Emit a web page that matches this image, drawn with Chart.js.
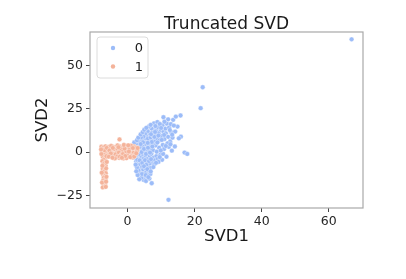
<!DOCTYPE html>
<html>
<head>
<meta charset="utf-8">
<script src="https://cdn.jsdelivr.net/npm/chart.js@4.4.1/dist/chart.umd.min.js"></script>
<style>
  html, body { margin: 0; padding: 0; background: #fff; }
  #wrap { width: 406px; height: 279px; }
</style>
</head>
<body>
<div id="wrap"><canvas id="grafico"></canvas></div>
<script>
// =========================================================
// 1. DATA
// =========================================================
const TITLE = "Truncated SVD";
const X_LABEL = "SVD1";
const Y_LABEL = "SVD2";
const CLASS_LABELS = ["0", "1"];
const X_TICKS = [0, 20, 40, 60];
const Y_TICKS = [-25, 0, 25, 50];

// class "0" points [SVD1, SVD2]
const class0 = [
  [2.1,1.2],[2.4,-0.5],[2.6,2.8],[2.2,-2.3],[2.9,0.4],[3.1,3.9],[3.0,-1.6],[3.3,1.8],[3.5,-3.2],[3.4,5.1],
  [3.8,0.9],[3.7,-0.9],[4.0,2.6],[4.1,-2.4],[4.3,4.3],[4.2,-4.6],[4.5,1.3],[4.6,-1.2],[4.8,3.2],[4.9,-3.5],
  [5.1,0.2],[5.0,5.8],[5.3,2.1],[5.4,-2.0],[5.6,4.6],[5.7,-0.6],[5.9,1.5],[6.0,-3.9],[6.2,3.3],[6.3,6.6],
  [6.5,0.6],[6.6,-1.9],[6.8,4.9],[7.0,2.2],[7.1,-0.9],[7.3,7.4],[2.3,3.5],[2.7,-3.6],[2.5,4.6],[3.6,6.4],
  [3.9,-5.4],[4.4,7.2],[1.8,0.2],[1.6,-1.1],[1.9,2.2],[2.0,-3.3],
  [2.6,-5.2],[3.0,-6.8],[3.4,-8.1],[3.8,-7.0],[4.0,-9.5],[4.4,-8.4],[4.2,-11.2],[4.7,-10.0],[5.0,-12.4],[5.3,-9.2],
  [5.6,-11.6],[4.6,-13.6],[5.2,-14.5],[5.9,-13.3],[6.4,-10.8],[6.1,-7.6],[6.8,-12.6],[7.0,-9.0],[4.8,-16.0],[5.5,-16.6],
  [7.2,-17.9],[6.5,-15.2],[3.6,-12.0],[3.2,-10.4],[4.1,-14.8],[5.8,-5.8],[6.7,-6.4],[7.5,-5.2],[7.8,-3.1],[8.2,-4.6],
  [8.6,-2.2],[9.0,-3.8],[8.0,-7.0],[2.8,-8.8],[2.4,-7.2],[3.5,-15.6],
  [5.4,8.2],[5.8,9.6],[6.1,7.9],[6.6,10.8],[6.9,8.6],[7.4,11.7],[7.7,9.4],[7.9,13.4],[8.1,6.3],[8.4,10.2],
  [8.6,12.6],[8.8,8.1],[9.1,14.4],[9.3,11.0],[9.6,6.9],[9.9,12.9],[10.1,9.3],[10.4,15.6],[10.7,11.8],[11.0,7.6],
  [11.3,13.6],[11.4,10.9],[11.7,16.5],[12.1,8.9],[12.4,14.2],[12.7,6.2],[13.0,11.6],[7.1,13.8],[7.9,16.7],[8.9,17.4],
  [10.7,20.2],[12.1,19.0],[13.6,18.7],[14.4,20.6],[15.8,21.2],[14.9,14.8],[14.2,11.9],[15.9,9.0],[15.3,8.0],[14.1,3.3],
  [17.0,-0.2],[17.8,-1.0],[12.9,16.2],[13.4,8.4],[11.9,5.1],[10.5,4.2],[9.4,2.6],[8.3,3.9],[7.6,1.2],[8.7,0.3],
  [9.8,-1.4],[10.9,1.9],[12.3,3.1],[13.2,0.9],[11.6,-2.6],[10.3,-4.4],[9.2,-5.6],[6.0,12.1],[5.2,10.6],[4.7,9.0],
  [4.0,8.6],[6.4,14.9],[7.5,4.5],[8.9,5.6],[10.2,7.1],
  [2.0,5.6],[2.8,6.9],[3.2,8.4],[3.9,10.3],[4.5,11.6],[5.0,13.0],[5.6,14.1],[6.9,15.8],[8.3,15.1],[9.6,16.3],
  [3.3,-1.1],[3.6,3.0],[4.2,0.1],[4.9,1.9],[5.5,-1.0],[6.1,2.6],[6.7,-0.2],[7.4,3.3],[7.2,5.9],[6.0,5.4],
  [4.6,5.7],[3.9,4.7],[2.5,-1.8],[2.9,-4.4],[3.6,-4.7],[4.4,-6.2],[5.2,-4.6],[5.6,-7.2],[6.4,-5.1],[7.0,-4.0],
  [4.9,-8.1],[5.9,-9.8],[6.9,-11.1],[4.3,-12.6],[5.4,-13.2],[6.2,-14.4],[3.0,-13.2],[2.6,-11.0],[7.7,-8.6],[8.5,-6.1],
  [9.6,-2.8],[10.6,-1.0],[9.9,1.0],[11.4,3.6],[12.8,4.6],[8.0,8.9],[9.2,9.6],[10.9,10.0],[7.0,10.4],[8.2,11.7],
  [10.0,14.0],[11.0,17.6],[12.6,12.8],[13.8,15.4],[13.3,10.1],
  [22.4,37.5],[21.8,25.4],[12.2,-27.5],[66.8,65.2]
];

// class "1" points [SVD1, SVD2]
const class1 = [
  [-7.8,3.2],[-7.2,2.6],[-6.6,3.4],[-6.1,1.8],[-5.6,3.0],[-5.1,2.2],[-4.6,0.9],[-4.2,3.1],[-3.7,1.6],[-3.3,2.8],
  [-2.8,0.4],[-2.4,3.4],[-1.9,1.2],[-1.5,2.5],[-1.0,-0.3],[-0.6,3.0],[-0.2,1.4],[0.3,2.6],[0.7,0.8],[1.1,2.9],
  [1.5,1.1],[1.9,3.3],[2.3,1.9],[2.7,0.6],
  [-7.6,0.4],[-7.0,-0.8],[-6.4,0.2],[-5.8,-1.4],[-5.3,-0.2],[-4.8,-2.1],[-4.3,-0.9],[-3.9,-2.8],[-3.4,-0.5],[-2.9,-1.9],
  [-2.5,-3.3],[-2.1,-0.9],[-1.6,-2.4],[-1.2,-3.6],[-0.8,-1.6],[-0.4,-2.7],[0.1,-0.7],[0.5,-1.9],[0.9,-0.2],[1.3,-1.2],
  [1.8,-0.4],[2.2,-1.5],[2.5,2.6],[2.9,1.3],
  [-6.9,1.2],[-6.2,2.5],[-5.4,1.0],[-4.9,3.6],[-4.0,1.9],[-3.0,2.0],[-2.2,1.8],[-1.3,0.6],[-0.5,0.1],[0.0,3.6],
  [0.6,1.9],[1.0,3.8],[1.6,2.4],[-3.6,-1.3],[-2.6,-0.2],[-1.8,-1.3],[-0.9,2.1],[-0.1,-1.8],[0.4,0.4],[1.2,-2.3],
  [-5.0,-0.7],[-4.4,2.5],[-3.1,-2.5],[-2.0,-2.1],[-1.4,-1.1],[-2.4,7.4],[-3.0,3.9],[-1.1,4.2],[0.2,4.0],[1.4,-3.0],
  [-0.3,-3.4],[-2.7,2.9],
  [-7.0,-1.6],[-7.4,-2.6],[-6.6,-3.4],[-7.1,-4.3],[-7.5,-5.2],[-6.8,-6.1],[-7.2,-7.0],[-6.5,-7.9],[-7.0,-8.8],[-7.4,-9.6],
  [-6.7,-10.5],[-7.1,-11.3],[-6.5,-12.1],[-7.3,-13.0],[-6.8,-13.9],[-7.1,-14.8],[-6.6,-15.6],[-7.3,-16.4],[-6.9,-17.2],[-7.2,-18.1],
  [-6.7,-18.9],[-7.0,-19.8],[-7.4,-20.3],[-6.3,-2.3],[-6.2,-5.6],[-6.4,-9.3],[-6.3,-14.2],[-7.7,-11.8],[-7.6,-17.5],[-6.4,-17.0],
  [-6.5,-20.0],[-7.8,-1.0],[-7.9,1.6],[-7.5,-7.8],
  [-3.8,-3.6],[-2.3,-2.6],[-0.7,-2.2],[0.8,-2.8],[2.0,-2.5],[-5.6,-2.6],[-4.5,-3.2],[-1.7,-3.2],[2.6,-0.6],[3.0,2.4]
];

const CLASS_COLORS = ["#9cbcf8", "#f4b39a"];

// =========================================================
// 2. PLUGINS (frame, title, legend)
// =========================================================
const FONT = "'DejaVu Sans', sans-serif";

const framePlugin = {
  id: 'frame',
  afterDraw(chart) {
    const { ctx, chartArea: a } = chart;
    ctx.save();
    ctx.strokeStyle = '#a8a8a8';
    ctx.lineWidth = 1.2;
    ctx.strokeRect(a.left, a.top, a.right - a.left, a.bottom - a.top);

    // title centred on the axes
    ctx.fillStyle = '#1a1a1a';
    ctx.font = `17px ${FONT}`;
    ctx.textAlign = 'center';
    ctx.textBaseline = 'alphabetic';
    ctx.fillText(TITLE, (a.left + a.right) / 2, a.top - 3);

    // legend box in the upper left corner
    const bx = a.left + 7, by = a.top + 5, bw = 51, bh = 41;
    ctx.fillStyle = 'rgba(255,255,255,0.8)';
    ctx.strokeStyle = '#dcdcdc';
    ctx.lineWidth = 1;
    ctx.beginPath();
    ctx.roundRect(bx, by, bw, bh, 3);
    ctx.fill();
    ctx.stroke();

    ctx.font = `13px ${FONT}`;
    ctx.textAlign = 'center';
    ctx.textBaseline = 'middle';
    chart.data.datasets.forEach((ds, i) => {
      const yy = by + 11 + i * 18.5;
      ctx.beginPath();
      ctx.arc(bx + 16, yy, 2.2, 0, Math.PI * 2);
      ctx.fillStyle = ds.backgroundColor;
      ctx.fill();
      ctx.fillStyle = '#1a1a1a';
      ctx.fillText(ds.label, bx + 42, yy + 1);
    });
    ctx.restore();
  }
};

const bgPlugin = {
  id: 'bg',
  beforeDraw(chart) {
    const { ctx } = chart;
    ctx.save();
    ctx.fillStyle = '#fff';
    ctx.fillRect(0, 0, chart.width, chart.height);
    ctx.restore();
  }
};

// =========================================================
// 3. CHART
// =========================================================
const fmt = v => (v < 0 ? '\u2212' + Math.abs(v) : String(v));

const toPoints = arr => arr.map(p => ({ x: p[0], y: p[1] }));

new Chart(document.getElementById('grafico'), {
  type: 'scatter',
  data: {
    datasets: [
      {
        label: CLASS_LABELS[0],
        data: toPoints(class0),
        backgroundColor: CLASS_COLORS[0],
        borderColor: 'rgba(255,255,255,0.7)',
        borderWidth: 0.5,
        pointRadius: 2.4,
        order: 2
      },
      {
        label: CLASS_LABELS[1],
        data: toPoints(class1),
        backgroundColor: CLASS_COLORS[1],
        borderColor: 'rgba(255,255,255,0.7)',
        borderWidth: 0.5,
        pointRadius: 2.4,
        order: 1
      }
    ]
  },
  options: {
    responsive: true,
    maintainAspectRatio: false,
    animation: false,
    layout: { padding: { top: 32, right: 43, left: 0, bottom: 0 } },
    plugins: {
      legend: { display: false },
      tooltip: { enabled: false },
      title: { display: false }
    },
    scales: {
      x: {
        type: 'linear',
        min: -11.2,
        max: 70.2,
        afterFit: s => { s.height = 71; },
        afterBuildTicks: s => { s.ticks = X_TICKS.map(v => ({ value: v })); },
        grid: { drawOnChartArea: false, drawTicks: true, tickLength: 4, color: '#444' },
        border: { display: false },
        ticks: { color: '#262626', font: { family: FONT, size: 12.5 }, padding: 2, callback: fmt, maxRotation: 0 },
        title: { display: true, text: X_LABEL, color: '#1a1a1a', font: { family: FONT, size: 16.5 }, padding: { top: 0, bottom: 32 } }
      },
      y: {
        type: 'linear',
        min: -32.2,
        max: 69.4,
        afterFit: s => { s.width = 90; },
        afterBuildTicks: s => { s.ticks = Y_TICKS.map(v => ({ value: v })); },
        grid: { drawOnChartArea: false, drawTicks: true, tickLength: 4, color: '#444' },
        border: { display: false },
        ticks: { color: '#262626', font: { family: FONT, size: 12.5 }, padding: 3, callback: fmt },
        title: { display: true, text: Y_LABEL, color: '#1a1a1a', font: { family: FONT, size: 16.5 }, padding: { top: 33, bottom: 0 } }
      }
    }
  },
  plugins: [bgPlugin, framePlugin]
});
</script>
</body>
</html>
